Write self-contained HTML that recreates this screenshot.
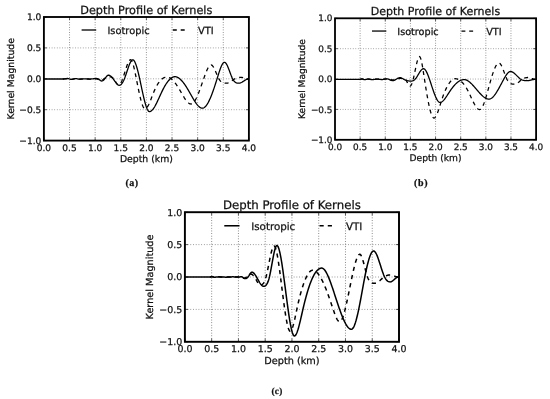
<!DOCTYPE html>
<html><head><meta charset="utf-8"><title>Depth Profile of Kernels</title>
<style>html,body{margin:0;padding:0;background:#fff}svg{display:block}text{text-rendering:geometricPrecision;stroke:#111;stroke-width:0.25px}</style></head>
<body>
<svg width="550" height="399" viewBox="0 0 550 399">
<rect width="550" height="399" fill="#fff"/>
<g stroke="#333" stroke-width="0.64" stroke-dasharray="0.80 1.70" fill="none"><line x1="69.53" y1="17.00" x2="69.53" y2="140.60"/><line x1="95.15" y1="17.00" x2="95.15" y2="140.60"/><line x1="120.78" y1="17.00" x2="120.78" y2="140.60"/><line x1="146.40" y1="17.00" x2="146.40" y2="140.60"/><line x1="172.03" y1="17.00" x2="172.03" y2="140.60"/><line x1="197.65" y1="17.00" x2="197.65" y2="140.60"/><line x1="223.28" y1="17.00" x2="223.28" y2="140.60"/></g>
<g stroke="#484848" stroke-width="0.60" stroke-dasharray="0.80 1.80" fill="none"><line x1="43.90" y1="47.90" x2="248.90" y2="47.90"/><line x1="43.90" y1="78.80" x2="248.90" y2="78.80"/><line x1="43.90" y1="109.70" x2="248.90" y2="109.70"/></g>
<path d="M63.00 79.00 L63.50 78.99 L64.00 78.96 L64.50 78.93 L65.00 78.88 L65.50 78.83 L66.00 78.78 L66.50 78.74 L67.00 78.71 L67.50 78.70 L67.60 78.70 L68.10 78.73 L68.60 78.81 L69.10 78.92 L69.60 79.04 L70.10 79.15 L70.60 79.24 L71.10 79.29 L71.30 79.30 L71.80 79.28 L72.30 79.22 L72.80 79.13 L73.30 79.03 L73.80 78.93 L74.30 78.83 L74.80 78.75 L75.30 78.71 L75.60 78.70 L76.10 78.72 L76.60 78.76 L77.10 78.82 L77.60 78.89 L78.10 78.97 L78.60 79.04 L79.10 79.10 L79.60 79.14 L80.00 79.15 L80.50 79.14 L81.00 79.13 L81.50 79.10 L82.00 79.07 L82.50 79.04 L83.00 79.00 L83.50 78.96 L84.00 78.93 L84.50 78.90 L85.00 78.87 L85.50 78.86 L86.00 78.85 L86.50 78.86 L87.00 78.88 L87.50 78.90 L88.00 78.94 L88.50 78.97 L89.00 79.01 L89.50 79.05 L90.00 79.07 L90.50 79.09 L91.00 79.10 L91.50 79.09 L92.00 79.05 L92.50 79.01 L93.00 78.95 L93.50 78.89 L94.00 78.85 L94.50 78.81 L95.00 78.80 L95.50 78.80 L96.00 78.82 L96.50 78.87 L97.00 78.95 L97.50 79.10 L98.00 79.31 L98.50 79.56 L99.00 79.82 L99.50 80.06 L100.00 80.26 L100.50 80.38 L100.80 80.40 L101.30 80.35 L101.80 80.20 L102.30 79.97 L102.80 79.68 L103.30 79.35 L103.80 79.00 L104.30 78.64 L104.80 78.28 L105.30 77.94 L105.80 77.62 L106.30 77.34 L106.80 77.11 L107.30 76.93 L107.80 76.83 L108.20 76.80 L108.70 76.80 L109.20 76.80 L109.70 76.81 L110.20 76.85 L110.70 76.93 L111.20 77.06 L111.70 77.25 L112.20 77.52 L112.70 77.87 L113.20 78.32 L113.70 78.87 L114.20 79.55 L114.70 80.32 L115.20 81.13 L115.70 81.96 L116.20 82.77 L116.70 83.51 L117.20 84.14 L117.70 84.62 L118.20 84.92 L118.60 85.00 L119.10 84.89 L119.60 84.57 L120.10 84.05 L120.60 83.35 L121.10 82.48 L121.60 81.46 L122.10 80.29 L122.60 79.00 L123.10 77.60 L123.60 76.11 L124.10 74.55 L124.60 72.96 L125.10 71.36 L125.60 69.76 L126.10 68.20 L126.60 66.70 L127.10 65.28 L127.60 63.98 L128.10 62.80 L128.60 61.79 L129.10 60.95 L129.60 60.33 L130.10 59.94 L130.60 59.80 L131.10 60.00 L131.60 60.59 L132.10 61.53 L132.60 62.79 L133.10 64.32 L133.60 66.11 L134.10 68.10 L134.60 70.27 L135.10 72.58 L135.60 75.00 L136.10 77.49 L136.60 80.01 L137.10 82.55 L137.60 85.07 L138.10 87.57 L138.60 90.02 L139.10 92.40 L139.60 94.69 L140.10 96.88 L140.60 98.94 L141.10 100.86 L141.60 102.62 L142.10 104.20 L142.60 105.58 L143.10 106.73 L143.60 107.65 L144.10 108.32 L144.60 108.70 L145.00 108.80 L145.50 108.71 L146.00 108.44 L146.50 108.01 L147.00 107.43 L147.50 106.72 L148.00 105.89 L148.50 104.95 L149.00 103.92 L149.50 102.81 L150.00 101.64 L150.50 100.41 L151.00 99.14 L151.50 97.85 L152.00 96.55 L152.50 95.26 L153.00 93.98 L153.50 92.73 L154.00 91.52 L154.50 90.37 L155.00 89.27 L155.50 88.22 L156.00 87.22 L156.50 86.27 L157.00 85.38 L157.50 84.53 L158.00 83.72 L158.50 82.97 L159.00 82.27 L159.50 81.61 L160.00 81.00 L160.50 80.43 L161.00 79.91 L161.50 79.43 L162.00 79.00 L162.50 78.61 L163.00 78.27 L163.50 77.97 L164.00 77.71 L164.50 77.49 L165.00 77.31 L165.50 77.17 L166.00 77.08 L166.50 77.02 L167.00 77.00 L167.50 77.03 L168.00 77.10 L168.50 77.23 L169.00 77.41 L169.50 77.63 L170.00 77.90 L170.50 78.21 L171.00 78.57 L171.50 78.96 L172.00 79.39 L172.50 79.87 L173.00 80.37 L173.50 80.92 L174.00 81.49 L174.50 82.10 L175.00 82.73 L175.50 83.40 L176.00 84.09 L176.50 84.81 L177.00 85.55 L177.50 86.31 L178.00 87.09 L178.50 87.89 L179.00 88.71 L179.50 89.55 L180.00 90.40 L180.50 91.26 L181.00 92.13 L181.50 93.01 L182.00 93.88 L182.50 94.75 L183.00 95.60 L183.50 96.44 L184.00 97.26 L184.50 98.06 L185.00 98.82 L185.50 99.56 L186.00 100.25 L186.50 100.90 L187.00 101.50 L187.50 102.05 L188.00 102.54 L188.50 102.96 L189.00 103.32 L189.50 103.61 L190.00 103.82 L190.50 103.96 L191.00 104.00 L191.50 103.94 L192.00 103.76 L192.50 103.47 L193.00 103.08 L193.50 102.58 L194.00 101.99 L194.50 101.31 L195.00 100.54 L195.50 99.69 L196.00 98.76 L196.50 97.76 L197.00 96.70 L197.50 95.58 L198.00 94.40 L198.50 93.17 L199.00 91.90 L199.50 90.59 L200.00 89.24 L200.50 87.87 L201.00 86.47 L201.50 85.05 L202.00 83.62 L202.50 82.18 L203.00 80.73 L203.50 79.29 L204.00 77.85 L204.50 76.43 L205.00 75.04 L205.50 73.69 L206.00 72.40 L206.50 71.17 L207.00 70.01 L207.50 68.94 L208.00 67.97 L208.50 67.11 L209.00 66.38 L209.50 65.78 L210.00 65.32 L210.50 65.03 L211.00 64.90 L211.10 64.90 L211.60 65.01 L212.10 65.33 L212.60 65.83 L213.10 66.50 L213.60 67.30 L214.10 68.23 L214.60 69.25 L215.10 70.35 L215.60 71.50 L216.10 72.68 L216.60 73.87 L217.10 75.04 L217.60 76.18 L218.10 77.27 L218.60 78.27 L219.10 79.17 L219.60 79.96 L220.10 80.63 L220.60 81.21 L221.10 81.69 L221.60 82.09 L222.10 82.41 L222.60 82.66 L223.10 82.86 L223.60 83.00 L224.10 83.09 L224.60 83.15 L225.10 83.19 L225.60 83.20 L226.10 83.20 L226.60 83.20 L227.10 83.17 L227.60 83.08 L228.10 82.94 L228.60 82.75 L229.10 82.52 L229.60 82.26 L230.10 81.96 L230.60 81.64 L231.10 81.31 L231.60 80.96 L232.10 80.61 L232.60 80.25 L233.10 79.90 L233.60 79.56 L234.10 79.24 L234.60 78.94 L235.10 78.67 L235.60 78.42 L236.10 78.20 L236.60 78.01 L237.10 77.84 L237.60 77.69 L238.10 77.57 L238.60 77.47 L239.10 77.40 L239.60 77.34 L240.10 77.31 L240.60 77.30 L241.10 77.32 L241.60 77.37 L242.10 77.46 L242.60 77.57 L243.10 77.70 L243.60 77.85 L244.10 78.01 L244.60 78.17 L245.10 78.33 L245.60 78.48 L246.10 78.62 L246.60 78.75 L247.10 78.86 L247.60 78.94 L248.10 78.99 L248.50 79.00" fill="none" stroke="#000" stroke-width="1.30" stroke-dasharray="4.00 4.00"/>
<path d="M44.00 79.00 L44.50 79.00 L45.00 79.00 L45.50 79.00 L46.00 79.00 L46.50 79.00 L47.00 79.00 L47.50 79.00 L48.00 79.00 L48.50 79.00 L49.00 79.00 L49.50 79.00 L50.00 79.00 L50.50 79.00 L51.00 79.00 L51.50 79.00 L52.00 79.00 L52.50 79.00 L53.00 79.00 L53.50 79.00 L54.00 79.00 L54.50 79.00 L55.00 79.00 L55.50 79.00 L56.00 79.00 L56.50 79.00 L57.00 79.00 L57.50 79.00 L58.00 79.00 L58.50 79.00 L59.00 79.00 L59.50 79.00 L60.00 79.00 L60.50 79.00 L61.00 79.00 L61.50 79.00 L62.00 79.00 L62.50 79.00 L63.00 79.00 L63.50 78.98 L64.00 78.94 L64.50 78.88 L65.00 78.80 L65.50 78.72 L66.00 78.64 L66.50 78.57 L67.00 78.52 L67.50 78.50 L67.60 78.50 L68.10 78.54 L68.60 78.66 L69.10 78.82 L69.60 79.00 L70.10 79.18 L70.60 79.32 L71.10 79.39 L71.30 79.40 L71.80 79.37 L72.30 79.29 L72.80 79.18 L73.30 79.04 L73.80 78.90 L74.30 78.78 L74.80 78.67 L75.30 78.61 L75.60 78.60 L76.10 78.63 L76.60 78.70 L77.10 78.81 L77.60 78.92 L78.10 79.01 L78.60 79.08 L79.00 79.10 L79.50 79.09 L80.00 79.07 L80.50 79.04 L81.00 78.99 L81.50 78.95 L82.00 78.91 L82.50 78.86 L83.00 78.83 L83.50 78.81 L84.00 78.80 L84.50 78.81 L85.00 78.83 L85.50 78.86 L86.00 78.91 L86.50 78.95 L87.00 78.99 L87.50 79.04 L88.00 79.07 L88.50 79.09 L89.00 79.10 L89.50 79.09 L90.00 79.08 L90.50 79.05 L91.00 79.01 L91.50 78.97 L92.00 78.91 L92.50 78.86 L93.00 78.80 L93.50 78.74 L94.00 78.68 L94.50 78.62 L95.00 78.57 L95.50 78.53 L96.00 78.51 L96.50 78.50 L97.00 78.53 L97.50 78.63 L98.00 78.80 L98.50 79.04 L99.00 79.35 L99.50 79.73 L100.00 80.14 L100.50 80.52 L101.00 80.82 L101.50 80.98 L101.70 81.00 L102.20 80.93 L102.70 80.73 L103.20 80.41 L103.70 79.99 L104.20 79.47 L104.70 78.88 L105.20 78.22 L105.70 77.54 L106.20 76.88 L106.70 76.28 L107.20 75.78 L107.70 75.41 L108.20 75.22 L108.40 75.20 L108.90 75.25 L109.40 75.39 L109.90 75.62 L110.40 75.93 L110.90 76.32 L111.40 76.77 L111.90 77.28 L112.40 77.85 L112.90 78.47 L113.40 79.14 L113.90 79.83 L114.40 80.55 L114.90 81.27 L115.40 81.97 L115.90 82.65 L116.40 83.28 L116.90 83.86 L117.40 84.36 L117.90 84.77 L118.40 85.07 L118.90 85.25 L119.30 85.30 L119.80 85.23 L120.30 85.04 L120.80 84.71 L121.30 84.26 L121.80 83.68 L122.30 82.98 L122.80 82.16 L123.30 81.22 L123.80 80.17 L124.30 79.00 L124.80 77.73 L125.30 76.36 L125.80 74.93 L126.30 73.45 L126.80 71.95 L127.30 70.44 L127.80 68.95 L128.30 67.51 L128.80 66.12 L129.30 64.81 L129.80 63.61 L130.30 62.54 L130.80 61.61 L131.30 60.85 L131.80 60.28 L132.30 59.92 L132.80 59.80 L132.80 59.80 L133.30 59.94 L133.80 60.33 L134.30 60.97 L134.80 61.84 L135.30 62.92 L135.80 64.19 L136.30 65.64 L136.80 67.26 L137.30 69.02 L137.80 70.91 L138.30 72.92 L138.80 75.02 L139.30 77.20 L139.80 79.45 L140.30 81.75 L140.80 84.08 L141.30 86.43 L141.80 88.77 L142.30 91.09 L142.80 93.37 L143.30 95.59 L143.80 97.75 L144.30 99.81 L144.80 101.76 L145.30 103.59 L145.80 105.27 L146.30 106.80 L146.80 108.14 L147.30 109.29 L147.80 110.23 L148.30 110.94 L148.80 111.40 L149.30 111.59 L149.40 111.60 L149.90 111.55 L150.40 111.39 L150.90 111.14 L151.40 110.79 L151.90 110.36 L152.40 109.85 L152.90 109.26 L153.40 108.60 L153.90 107.87 L154.40 107.08 L154.90 106.24 L155.40 105.35 L155.90 104.41 L156.40 103.44 L156.90 102.43 L157.40 101.39 L157.90 100.33 L158.40 99.25 L158.90 98.16 L159.40 97.06 L159.90 95.96 L160.40 94.86 L160.90 93.77 L161.40 92.69 L161.90 91.64 L162.40 90.60 L162.90 89.60 L163.40 88.63 L163.90 87.69 L164.40 86.78 L164.90 85.90 L165.40 85.06 L165.90 84.26 L166.40 83.49 L166.90 82.76 L167.40 82.06 L167.90 81.41 L168.40 80.79 L168.90 80.21 L169.40 79.68 L169.90 79.18 L170.40 78.73 L170.90 78.32 L171.40 77.96 L171.90 77.64 L172.40 77.36 L172.90 77.14 L173.40 76.95 L173.90 76.82 L174.40 76.74 L174.90 76.70 L175.00 76.70 L175.50 76.72 L176.00 76.80 L176.50 76.92 L177.00 77.09 L177.50 77.30 L178.00 77.56 L178.50 77.85 L179.00 78.19 L179.50 78.57 L180.00 78.99 L180.50 79.44 L181.00 79.93 L181.50 80.45 L182.00 81.00 L182.50 81.59 L183.00 82.20 L183.50 82.84 L184.00 83.51 L184.50 84.21 L185.00 84.93 L185.50 85.67 L186.00 86.43 L186.50 87.21 L187.00 88.01 L187.50 88.83 L188.00 89.66 L188.50 90.51 L189.00 91.37 L189.50 92.25 L190.00 93.12 L190.50 94.01 L191.00 94.90 L191.50 95.78 L192.00 96.66 L192.50 97.53 L193.00 98.39 L193.50 99.23 L194.00 100.06 L194.50 100.86 L195.00 101.65 L195.50 102.40 L196.00 103.12 L196.50 103.81 L197.00 104.46 L197.50 105.07 L198.00 105.63 L198.50 106.15 L199.00 106.62 L199.50 107.03 L200.00 107.39 L200.50 107.68 L201.00 107.91 L201.50 108.08 L202.00 108.18 L202.40 108.20 L202.90 108.15 L203.40 108.01 L203.90 107.78 L204.40 107.47 L204.90 107.07 L205.40 106.59 L205.90 106.03 L206.40 105.39 L206.90 104.68 L207.40 103.90 L207.90 103.05 L208.40 102.14 L208.90 101.17 L209.40 100.13 L209.90 99.04 L210.40 97.90 L210.90 96.70 L211.40 95.45 L211.90 94.16 L212.40 92.83 L212.90 91.45 L213.40 90.04 L213.90 88.59 L214.40 87.11 L214.90 85.60 L215.40 84.07 L215.90 82.51 L216.40 80.92 L216.90 79.32 L217.40 77.71 L217.90 76.09 L218.40 74.49 L218.90 72.91 L219.40 71.39 L219.90 69.92 L220.40 68.54 L220.90 67.25 L221.40 66.08 L221.90 65.03 L222.40 64.13 L222.90 63.39 L223.40 62.83 L223.90 62.46 L224.40 62.30 L224.50 62.30 L225.00 62.42 L225.50 62.78 L226.00 63.35 L226.50 64.10 L227.00 65.01 L227.50 66.05 L228.00 67.21 L228.50 68.45 L229.00 69.76 L229.50 71.10 L230.00 72.46 L230.50 73.81 L231.00 75.12 L231.50 76.38 L232.00 77.55 L232.50 78.61 L233.00 79.54 L233.50 80.34 L234.00 81.01 L234.50 81.57 L235.00 82.03 L235.50 82.39 L236.00 82.67 L236.50 82.88 L237.00 83.02 L237.50 83.12 L238.00 83.17 L238.50 83.20 L238.90 83.20 L239.40 83.17 L239.90 83.07 L240.40 82.92 L240.90 82.73 L241.40 82.49 L241.90 82.23 L242.40 81.93 L242.90 81.62 L243.40 81.30 L243.90 80.97 L244.40 80.64 L244.90 80.33 L245.40 80.03 L245.90 79.76 L246.40 79.52 L246.90 79.31 L247.40 79.15 L247.90 79.05 L248.40 79.00 L248.50 79.00" fill="none" stroke="#000" stroke-width="1.30" stroke-linejoin="round"/>
<rect x="43.90" y="17.00" width="205.00" height="123.60" fill="none" stroke="#000" stroke-width="1.85"/>
<g stroke="#000" stroke-width="0.60"><line x1="43.90" y1="140.60" x2="43.90" y2="137.60"/><line x1="43.90" y1="17.00" x2="43.90" y2="20.00"/><line x1="69.53" y1="140.60" x2="69.53" y2="137.60"/><line x1="69.53" y1="17.00" x2="69.53" y2="20.00"/><line x1="95.15" y1="140.60" x2="95.15" y2="137.60"/><line x1="95.15" y1="17.00" x2="95.15" y2="20.00"/><line x1="120.78" y1="140.60" x2="120.78" y2="137.60"/><line x1="120.78" y1="17.00" x2="120.78" y2="20.00"/><line x1="146.40" y1="140.60" x2="146.40" y2="137.60"/><line x1="146.40" y1="17.00" x2="146.40" y2="20.00"/><line x1="172.03" y1="140.60" x2="172.03" y2="137.60"/><line x1="172.03" y1="17.00" x2="172.03" y2="20.00"/><line x1="197.65" y1="140.60" x2="197.65" y2="137.60"/><line x1="197.65" y1="17.00" x2="197.65" y2="20.00"/><line x1="223.28" y1="140.60" x2="223.28" y2="137.60"/><line x1="223.28" y1="17.00" x2="223.28" y2="20.00"/><line x1="248.90" y1="140.60" x2="248.90" y2="137.60"/><line x1="248.90" y1="17.00" x2="248.90" y2="20.00"/><line x1="43.90" y1="17.00" x2="46.90" y2="17.00"/><line x1="248.90" y1="17.00" x2="245.90" y2="17.00"/><line x1="43.90" y1="47.90" x2="46.90" y2="47.90"/><line x1="248.90" y1="47.90" x2="245.90" y2="47.90"/><line x1="43.90" y1="78.80" x2="46.90" y2="78.80"/><line x1="248.90" y1="78.80" x2="245.90" y2="78.80"/><line x1="43.90" y1="109.70" x2="46.90" y2="109.70"/><line x1="248.90" y1="109.70" x2="245.90" y2="109.70"/><line x1="43.90" y1="140.60" x2="46.90" y2="140.60"/><line x1="248.90" y1="140.60" x2="245.90" y2="140.60"/></g>
<g font-family='"DejaVu Sans", "Liberation Sans", sans-serif' font-size="9.05" fill="#111"><text x="43.90" y="150.60" text-anchor="middle">0.0</text><text x="69.53" y="150.60" text-anchor="middle">0.5</text><text x="95.15" y="150.60" text-anchor="middle">1.0</text><text x="120.78" y="150.60" text-anchor="middle">1.5</text><text x="146.40" y="150.60" text-anchor="middle">2.0</text><text x="172.03" y="150.60" text-anchor="middle">2.5</text><text x="197.65" y="150.60" text-anchor="middle">3.0</text><text x="223.28" y="150.60" text-anchor="middle">3.5</text><text x="248.90" y="150.60" text-anchor="middle">4.0</text><text x="41.30" y="20.20" text-anchor="end">1.0</text><text x="41.30" y="51.10" text-anchor="end">0.5</text><text x="41.30" y="82.00" text-anchor="end">0.0</text><text x="41.30" y="112.90" text-anchor="end">−0.5</text><text x="41.30" y="143.80" text-anchor="end">−1.0</text></g>
<text x="146.40" y="162.20" text-anchor="middle" font-family='"DejaVu Sans", "Liberation Sans", sans-serif' font-size="9.30" fill="#111">Depth (km)</text>
<text transform="translate(13.50 78.80) rotate(-90)" text-anchor="middle" font-family='"DejaVu Sans", "Liberation Sans", sans-serif' font-size="9.30" fill="#111">Kernel Magnitude</text>
<text x="146.30" y="13.70" text-anchor="middle" font-family='"DejaVu Sans", "Liberation Sans", sans-serif' font-size="11.25" fill="#111">Depth Profile of Kernels</text>
<line x1="81.60" y1="30.00" x2="96.20" y2="30.00" stroke="#000" stroke-width="1.30"/>
<text x="107.40" y="33.60" font-family='"DejaVu Sans", "Liberation Sans", sans-serif' font-size="9.85" fill="#111">Isotropic</text>
<line x1="172.80" y1="30.00" x2="187.40" y2="30.00" stroke="#000" stroke-width="1.30" stroke-dasharray="4.00 3.90"/>
<text x="198.10" y="33.60" font-family='"DejaVu Sans", "Liberation Sans", sans-serif' font-size="9.85" fill="#111">VTI</text>
<text x="132.00" y="185.80" text-anchor="middle" font-family='"Liberation Serif", "DejaVu Serif", serif' font-weight="bold" font-size="10.00" letter-spacing="0.4" stroke-width="0.08" fill="#111">(a)</text>
<g stroke="#333" stroke-width="0.63" stroke-dasharray="0.78 1.67" fill="none"><line x1="360.14" y1="18.30" x2="360.14" y2="139.80"/><line x1="385.27" y1="18.30" x2="385.27" y2="139.80"/><line x1="410.41" y1="18.30" x2="410.41" y2="139.80"/><line x1="435.55" y1="18.30" x2="435.55" y2="139.80"/><line x1="460.69" y1="18.30" x2="460.69" y2="139.80"/><line x1="485.83" y1="18.30" x2="485.83" y2="139.80"/><line x1="510.96" y1="18.30" x2="510.96" y2="139.80"/></g>
<g stroke="#484848" stroke-width="0.59" stroke-dasharray="0.78 1.77" fill="none"><line x1="335.00" y1="48.68" x2="536.10" y2="48.68"/><line x1="335.00" y1="79.05" x2="536.10" y2="79.05"/><line x1="335.00" y1="109.43" x2="536.10" y2="109.43"/></g>
<path d="M359.50 79.35 L360.00 79.31 L360.50 79.23 L361.00 79.12 L361.50 79.04 L362.00 79.00 L362.50 79.06 L363.00 79.21 L363.50 79.39 L364.00 79.54 L364.50 79.60 L365.00 79.57 L365.50 79.50 L366.00 79.40 L366.50 79.30 L367.00 79.20 L367.50 79.13 L368.00 79.10 L368.50 79.12 L369.00 79.17 L369.50 79.24 L370.00 79.33 L370.50 79.41 L371.00 79.48 L371.50 79.53 L372.00 79.55 L372.50 79.54 L373.00 79.51 L373.50 79.46 L374.00 79.41 L374.50 79.35 L375.00 79.29 L375.50 79.24 L376.00 79.19 L376.50 79.16 L377.00 79.15 L377.50 79.16 L378.00 79.19 L378.50 79.23 L379.00 79.27 L379.50 79.32 L380.00 79.38 L380.50 79.42 L381.00 79.46 L381.50 79.49 L382.00 79.50 L382.50 79.48 L383.00 79.42 L383.50 79.34 L384.00 79.25 L384.50 79.16 L385.00 79.08 L385.50 79.02 L386.00 79.00 L386.50 79.01 L387.00 79.05 L387.50 79.10 L388.00 79.17 L388.50 79.24 L389.00 79.33 L389.50 79.41 L390.00 79.50 L390.50 79.58 L391.00 79.66 L391.50 79.73 L392.00 79.78 L392.50 79.83 L393.00 79.87 L393.50 79.89 L394.00 79.90 L394.50 79.87 L395.00 79.78 L395.50 79.65 L396.00 79.49 L396.50 79.31 L397.00 79.13 L397.50 78.95 L398.00 78.80 L398.50 78.68 L399.00 78.58 L399.50 78.51 L400.00 78.46 L400.50 78.43 L401.00 78.41 L401.50 78.40 L402.00 78.40 L402.50 78.38 L403.00 78.34 L403.50 78.33 L404.00 78.38 L404.50 78.54 L405.00 78.85 L405.50 79.35 L406.00 80.06 L406.50 80.94 L407.00 81.91 L407.50 82.91 L408.00 83.88 L408.50 84.75 L409.00 85.46 L409.50 85.93 L410.00 86.10 L410.50 85.92 L411.00 85.38 L411.50 84.51 L412.00 83.32 L412.50 81.85 L413.00 80.12 L413.50 78.13 L414.00 75.95 L414.50 73.63 L415.00 71.24 L415.50 68.83 L416.00 66.47 L416.50 64.23 L417.00 62.16 L417.50 60.32 L418.00 58.79 L418.50 57.61 L419.00 56.86 L419.50 56.60 L420.00 56.94 L420.50 57.91 L421.00 59.44 L421.50 61.45 L422.00 63.87 L422.50 66.61 L423.00 69.60 L423.50 72.78 L424.00 76.05 L424.50 79.35 L425.00 82.61 L425.50 85.81 L426.00 88.93 L426.50 91.96 L427.00 94.90 L427.50 97.71 L428.00 100.40 L428.50 102.95 L429.00 105.35 L429.50 107.58 L430.00 109.63 L430.50 111.48 L431.00 113.13 L431.50 114.57 L432.00 115.77 L432.50 116.73 L433.00 117.42 L433.50 117.85 L434.00 118.00 L434.50 117.88 L435.00 117.52 L435.50 116.95 L436.00 116.18 L436.50 115.25 L437.00 114.15 L437.50 112.92 L438.00 111.58 L438.50 110.15 L439.00 108.63 L439.50 107.07 L440.00 105.46 L440.50 103.85 L441.00 102.23 L441.50 100.64 L442.00 99.10 L442.50 97.62 L443.00 96.19 L443.50 94.83 L444.00 93.53 L444.50 92.29 L445.00 91.10 L445.50 89.97 L446.00 88.89 L446.50 87.87 L447.00 86.90 L447.50 85.97 L448.00 85.10 L448.50 84.27 L449.00 83.50 L449.50 82.77 L450.00 82.10 L450.50 81.48 L451.00 80.91 L451.50 80.41 L452.00 79.97 L452.50 79.59 L453.00 79.27 L453.50 79.03 L454.00 78.85 L454.50 78.74 L455.00 78.70 L455.50 78.72 L456.00 78.77 L456.50 78.86 L457.00 78.98 L457.50 79.14 L458.00 79.33 L458.50 79.56 L459.00 79.82 L459.50 80.12 L460.00 80.46 L460.50 80.83 L461.00 81.24 L461.50 81.68 L462.00 82.17 L462.50 82.69 L463.00 83.24 L463.50 83.84 L464.00 84.47 L464.50 85.14 L465.00 85.85 L465.50 86.60 L466.00 87.38 L466.50 88.20 L467.00 89.07 L467.50 89.97 L468.00 90.91 L468.50 91.89 L469.00 92.90 L469.50 93.94 L470.00 95.00 L470.50 96.07 L471.00 97.15 L471.50 98.22 L472.00 99.29 L472.50 100.35 L473.00 101.38 L473.50 102.38 L474.00 103.35 L474.50 104.27 L475.00 105.14 L475.50 105.96 L476.00 106.71 L476.50 107.39 L477.00 107.99 L477.50 108.51 L478.00 108.94 L478.50 109.26 L479.00 109.48 L479.50 109.59 L479.70 109.60 L480.20 109.50 L480.70 109.20 L481.20 108.72 L481.70 108.06 L482.20 107.25 L482.70 106.29 L483.20 105.19 L483.70 103.97 L484.20 102.64 L484.70 101.20 L485.20 99.68 L485.70 98.09 L486.20 96.43 L486.70 94.72 L487.20 92.97 L487.70 91.18 L488.20 89.38 L488.70 87.56 L489.20 85.74 L489.70 83.94 L490.20 82.15 L490.70 80.39 L491.20 78.67 L491.70 77.00 L492.20 75.38 L492.70 73.83 L493.20 72.35 L493.70 70.95 L494.20 69.64 L494.70 68.42 L495.20 67.31 L495.70 66.31 L496.20 65.42 L496.70 64.66 L497.20 64.03 L497.70 63.55 L498.20 63.21 L498.70 63.03 L499.00 63.00 L499.50 63.13 L500.00 63.49 L500.50 64.06 L501.00 64.81 L501.50 65.73 L502.00 66.78 L502.50 67.95 L503.00 69.20 L503.50 70.51 L504.00 71.86 L504.50 73.22 L505.00 74.57 L505.50 75.88 L506.00 77.13 L506.50 78.30 L507.00 79.35 L507.50 80.27 L508.00 81.07 L508.50 81.75 L509.00 82.32 L509.50 82.79 L510.00 83.17 L510.50 83.47 L511.00 83.70 L511.50 83.87 L512.00 83.99 L512.50 84.06 L513.00 84.10 L513.50 84.11 L514.00 84.11 L514.50 84.10 L515.00 84.10 L515.50 84.05 L516.00 83.92 L516.50 83.72 L517.00 83.45 L517.50 83.13 L518.00 82.76 L518.50 82.35 L519.00 81.92 L519.50 81.48 L520.00 81.03 L520.50 80.58 L521.00 80.14 L521.50 79.73 L522.00 79.35 L522.50 79.01 L523.00 78.71 L523.50 78.45 L524.00 78.23 L524.50 78.04 L525.00 77.89 L525.50 77.76 L526.00 77.66 L526.50 77.59 L527.00 77.54 L527.50 77.51 L528.00 77.50 L528.50 77.52 L529.00 77.59 L529.50 77.69 L530.00 77.82 L530.50 77.98 L531.00 78.15 L531.50 78.33 L532.00 78.52 L532.50 78.70 L533.00 78.87 L533.50 79.03 L534.00 79.16 L534.50 79.26 L535.00 79.33 L535.50 79.35" fill="none" stroke="#000" stroke-width="1.28" stroke-dasharray="3.92 3.92"/>
<path d="M335.00 79.35 L335.50 79.35 L336.00 79.35 L336.50 79.35 L337.00 79.35 L337.50 79.35 L338.00 79.35 L338.50 79.35 L339.00 79.35 L339.50 79.35 L340.00 79.35 L340.50 79.35 L341.00 79.35 L341.50 79.35 L342.00 79.35 L342.50 79.35 L343.00 79.35 L343.50 79.35 L344.00 79.35 L344.50 79.35 L345.00 79.35 L345.50 79.35 L346.00 79.35 L346.50 79.35 L347.00 79.35 L347.50 79.35 L348.00 79.35 L348.50 79.35 L349.00 79.35 L349.50 79.35 L350.00 79.35 L350.50 79.35 L351.00 79.35 L351.50 79.35 L352.00 79.35 L352.50 79.35 L353.00 79.35 L353.50 79.35 L354.00 79.35 L354.50 79.35 L355.00 79.35 L355.50 79.35 L356.00 79.35 L356.50 79.35 L357.00 79.35 L357.50 79.35 L358.00 79.35 L358.50 79.35 L359.00 79.35 L359.50 79.35 L360.00 79.30 L360.50 79.19 L361.00 79.06 L361.50 78.95 L362.00 78.90 L362.50 78.98 L363.00 79.18 L363.50 79.42 L364.00 79.62 L364.50 79.70 L365.00 79.66 L365.50 79.56 L366.00 79.42 L366.50 79.28 L367.00 79.14 L367.50 79.04 L368.00 79.00 L368.50 79.03 L369.00 79.09 L369.50 79.19 L370.00 79.30 L370.50 79.41 L371.00 79.51 L371.50 79.57 L372.00 79.60 L372.50 79.59 L373.00 79.55 L373.50 79.49 L374.00 79.42 L374.50 79.35 L375.00 79.28 L375.50 79.21 L376.00 79.15 L376.50 79.11 L377.00 79.10 L377.50 79.11 L378.00 79.15 L378.50 79.20 L379.00 79.26 L379.50 79.33 L380.00 79.39 L380.50 79.45 L381.00 79.50 L381.50 79.54 L382.00 79.55 L382.50 79.52 L383.00 79.43 L383.50 79.31 L384.00 79.17 L384.50 79.04 L385.00 78.92 L385.50 78.83 L386.00 78.80 L386.50 78.81 L387.00 78.85 L387.50 78.92 L388.00 79.03 L388.50 79.17 L389.00 79.35 L389.50 79.57 L390.00 79.82 L390.50 80.06 L391.00 80.30 L391.50 80.49 L392.00 80.63 L392.50 80.70 L392.60 80.70 L393.10 80.66 L393.60 80.54 L394.10 80.37 L394.60 80.14 L395.10 79.88 L395.60 79.59 L396.10 79.29 L396.60 78.99 L397.10 78.69 L397.60 78.42 L398.10 78.18 L398.60 77.97 L399.10 77.82 L399.60 77.72 L400.00 77.70 L400.50 77.74 L401.00 77.86 L401.50 78.03 L402.00 78.26 L402.50 78.52 L403.00 78.79 L403.50 79.07 L404.00 79.35 L404.50 79.61 L405.00 79.84 L405.50 80.06 L406.00 80.25 L406.50 80.42 L407.00 80.58 L407.50 80.71 L408.00 80.82 L408.50 80.92 L409.00 80.99 L409.50 81.05 L410.00 81.08 L410.50 81.10 L410.70 81.10 L411.20 81.09 L411.70 81.05 L412.20 80.96 L412.70 80.83 L413.20 80.64 L413.70 80.39 L414.20 80.06 L414.70 79.64 L415.20 79.13 L415.70 78.53 L416.20 77.86 L416.70 77.11 L417.20 76.33 L417.70 75.51 L418.20 74.67 L418.70 73.83 L419.20 73.00 L419.70 72.21 L420.20 71.46 L420.70 70.76 L421.20 70.15 L421.70 69.62 L422.20 69.20 L422.70 68.89 L423.20 68.73 L423.50 68.70 L424.00 68.80 L424.50 69.09 L425.00 69.55 L425.50 70.18 L426.00 70.95 L426.50 71.86 L427.00 72.88 L427.50 74.02 L428.00 75.25 L428.50 76.55 L429.00 77.93 L429.50 79.35 L430.00 80.81 L430.50 82.30 L431.00 83.81 L431.50 85.33 L432.00 86.84 L432.50 88.35 L433.00 89.82 L433.50 91.27 L434.00 92.67 L434.50 94.02 L435.00 95.30 L435.50 96.51 L436.00 97.64 L436.50 98.67 L437.00 99.60 L437.50 100.41 L438.00 101.10 L438.50 101.65 L439.00 102.06 L439.50 102.31 L440.00 102.40 L440.50 102.35 L441.00 102.22 L441.50 102.00 L442.00 101.70 L442.50 101.34 L443.00 100.90 L443.50 100.41 L444.00 99.86 L444.50 99.26 L445.00 98.62 L445.50 97.95 L446.00 97.24 L446.50 96.50 L447.00 95.74 L447.50 94.97 L448.00 94.19 L448.50 93.41 L449.00 92.63 L449.50 91.86 L450.00 91.10 L450.50 90.36 L451.00 89.64 L451.50 88.94 L452.00 88.26 L452.50 87.61 L453.00 86.97 L453.50 86.36 L454.00 85.77 L454.50 85.21 L455.00 84.66 L455.50 84.15 L456.00 83.66 L456.50 83.19 L457.00 82.75 L457.50 82.34 L458.00 81.95 L458.50 81.59 L459.00 81.26 L459.50 80.96 L460.00 80.68 L460.50 80.44 L461.00 80.23 L461.50 80.04 L462.00 79.89 L462.50 79.77 L463.00 79.68 L463.50 79.62 L464.00 79.60 L464.10 79.60 L464.60 79.62 L465.10 79.69 L465.60 79.81 L466.10 79.96 L466.60 80.16 L467.10 80.40 L467.60 80.67 L468.10 80.97 L468.60 81.31 L469.10 81.68 L469.60 82.08 L470.10 82.50 L470.60 82.95 L471.10 83.42 L471.60 83.91 L472.10 84.42 L472.60 84.94 L473.10 85.48 L473.60 86.04 L474.10 86.60 L474.60 87.17 L475.10 87.75 L475.60 88.34 L476.10 88.93 L476.60 89.51 L477.10 90.10 L477.60 90.68 L478.10 91.26 L478.60 91.83 L479.10 92.40 L479.60 92.95 L480.10 93.49 L480.60 94.02 L481.10 94.53 L481.60 95.03 L482.10 95.50 L482.60 95.95 L483.10 96.38 L483.60 96.79 L484.10 97.17 L484.60 97.52 L485.10 97.84 L485.60 98.13 L486.10 98.38 L486.60 98.60 L487.10 98.78 L487.60 98.93 L488.10 99.03 L488.60 99.09 L489.00 99.10 L489.50 99.06 L490.00 98.95 L490.50 98.78 L491.00 98.53 L491.50 98.22 L492.00 97.86 L492.50 97.43 L493.00 96.95 L493.50 96.42 L494.00 95.84 L494.50 95.22 L495.00 94.55 L495.50 93.85 L496.00 93.11 L496.50 92.34 L497.00 91.53 L497.50 90.70 L498.00 89.85 L498.50 88.97 L499.00 88.08 L499.50 87.17 L500.00 86.25 L500.50 85.32 L501.00 84.38 L501.50 83.44 L502.00 82.50 L502.50 81.57 L503.00 80.64 L503.50 79.72 L504.00 78.81 L504.50 77.92 L505.00 77.05 L505.50 76.22 L506.00 75.43 L506.50 74.69 L507.00 74.01 L507.50 73.39 L508.00 72.84 L508.50 72.38 L509.00 72.01 L509.50 71.73 L510.00 71.56 L510.50 71.50 L511.00 71.54 L511.50 71.65 L512.00 71.82 L512.50 72.05 L513.00 72.34 L513.50 72.68 L514.00 73.05 L514.50 73.46 L515.00 73.90 L515.50 74.37 L516.00 74.85 L516.50 75.35 L517.00 75.85 L517.50 76.35 L518.00 76.84 L518.50 77.32 L519.00 77.79 L519.50 78.23 L520.00 78.64 L520.50 79.02 L521.00 79.35 L521.50 79.64 L522.00 79.88 L522.50 80.09 L523.00 80.25 L523.50 80.39 L524.00 80.49 L524.50 80.57 L525.00 80.63 L525.50 80.66 L526.00 80.69 L526.50 80.70 L527.00 80.70 L527.50 80.69 L528.00 80.65 L528.50 80.59 L529.00 80.51 L529.50 80.42 L530.00 80.31 L530.50 80.20 L531.00 80.08 L531.50 79.97 L532.00 79.85 L532.50 79.74 L533.00 79.63 L533.50 79.54 L534.00 79.46 L534.50 79.40 L535.00 79.36 L535.50 79.35" fill="none" stroke="#000" stroke-width="1.28" stroke-linejoin="round"/>
<rect x="335.00" y="18.30" width="201.10" height="121.50" fill="none" stroke="#000" stroke-width="1.81"/>
<g stroke="#000" stroke-width="0.59"><line x1="335.00" y1="139.80" x2="335.00" y2="136.86"/><line x1="335.00" y1="18.30" x2="335.00" y2="21.24"/><line x1="360.14" y1="139.80" x2="360.14" y2="136.86"/><line x1="360.14" y1="18.30" x2="360.14" y2="21.24"/><line x1="385.27" y1="139.80" x2="385.27" y2="136.86"/><line x1="385.27" y1="18.30" x2="385.27" y2="21.24"/><line x1="410.41" y1="139.80" x2="410.41" y2="136.86"/><line x1="410.41" y1="18.30" x2="410.41" y2="21.24"/><line x1="435.55" y1="139.80" x2="435.55" y2="136.86"/><line x1="435.55" y1="18.30" x2="435.55" y2="21.24"/><line x1="460.69" y1="139.80" x2="460.69" y2="136.86"/><line x1="460.69" y1="18.30" x2="460.69" y2="21.24"/><line x1="485.83" y1="139.80" x2="485.83" y2="136.86"/><line x1="485.83" y1="18.30" x2="485.83" y2="21.24"/><line x1="510.96" y1="139.80" x2="510.96" y2="136.86"/><line x1="510.96" y1="18.30" x2="510.96" y2="21.24"/><line x1="536.10" y1="139.80" x2="536.10" y2="136.86"/><line x1="536.10" y1="18.30" x2="536.10" y2="21.24"/><line x1="335.00" y1="18.30" x2="337.94" y2="18.30"/><line x1="536.10" y1="18.30" x2="533.16" y2="18.30"/><line x1="335.00" y1="48.68" x2="337.94" y2="48.68"/><line x1="536.10" y1="48.68" x2="533.16" y2="48.68"/><line x1="335.00" y1="79.05" x2="337.94" y2="79.05"/><line x1="536.10" y1="79.05" x2="533.16" y2="79.05"/><line x1="335.00" y1="109.43" x2="337.94" y2="109.43"/><line x1="536.10" y1="109.43" x2="533.16" y2="109.43"/><line x1="335.00" y1="139.80" x2="337.94" y2="139.80"/><line x1="536.10" y1="139.80" x2="533.16" y2="139.80"/></g>
<g font-family='"DejaVu Sans", "Liberation Sans", sans-serif' font-size="8.88" fill="#111"><text x="335.00" y="149.61" text-anchor="middle">0.0</text><text x="360.14" y="149.61" text-anchor="middle">0.5</text><text x="385.27" y="149.61" text-anchor="middle">1.0</text><text x="410.41" y="149.61" text-anchor="middle">1.5</text><text x="435.55" y="149.61" text-anchor="middle">2.0</text><text x="460.69" y="149.61" text-anchor="middle">2.5</text><text x="485.83" y="149.61" text-anchor="middle">3.0</text><text x="510.96" y="149.61" text-anchor="middle">3.5</text><text x="536.10" y="149.61" text-anchor="middle">4.0</text><text x="332.45" y="21.44" text-anchor="end">1.0</text><text x="332.45" y="51.81" text-anchor="end">0.5</text><text x="332.45" y="82.19" text-anchor="end">0.0</text><text x="332.45" y="112.56" text-anchor="end">−0.5</text><text x="332.45" y="142.94" text-anchor="end">−1.0</text></g>
<text x="435.55" y="160.99" text-anchor="middle" font-family='"DejaVu Sans", "Liberation Sans", sans-serif' font-size="9.12" fill="#111">Depth (km)</text>
<text transform="translate(305.18 79.05) rotate(-90)" text-anchor="middle" font-family='"DejaVu Sans", "Liberation Sans", sans-serif' font-size="9.12" fill="#111">Kernel Magnitude</text>
<text x="435.45" y="15.06" text-anchor="middle" font-family='"DejaVu Sans", "Liberation Sans", sans-serif' font-size="11.04" fill="#111">Depth Profile of Kernels</text>
<line x1="371.98" y1="31.05" x2="386.31" y2="31.05" stroke="#000" stroke-width="1.28"/>
<text x="397.29" y="34.58" font-family='"DejaVu Sans", "Liberation Sans", sans-serif' font-size="9.66" fill="#111">Isotropic</text>
<line x1="461.45" y1="31.05" x2="475.77" y2="31.05" stroke="#000" stroke-width="1.28" stroke-dasharray="3.92 3.83"/>
<text x="486.27" y="34.58" font-family='"DejaVu Sans", "Liberation Sans", sans-serif' font-size="9.66" fill="#111">VTI</text>
<text x="421.20" y="185.70" text-anchor="middle" font-family='"Liberation Serif", "DejaVu Serif", serif' font-weight="bold" font-size="10.00" letter-spacing="0.7" stroke-width="0.08" fill="#111">(b)</text>
<g stroke="#333" stroke-width="0.67" stroke-dasharray="0.84 1.78" fill="none"><line x1="211.66" y1="212.20" x2="211.66" y2="341.80"/><line x1="238.43" y1="212.20" x2="238.43" y2="341.80"/><line x1="265.19" y1="212.20" x2="265.19" y2="341.80"/><line x1="291.95" y1="212.20" x2="291.95" y2="341.80"/><line x1="318.71" y1="212.20" x2="318.71" y2="341.80"/><line x1="345.48" y1="212.20" x2="345.48" y2="341.80"/><line x1="372.24" y1="212.20" x2="372.24" y2="341.80"/></g>
<g stroke="#484848" stroke-width="0.63" stroke-dasharray="0.84 1.88" fill="none"><line x1="184.90" y1="244.60" x2="399.00" y2="244.60"/><line x1="184.90" y1="277.00" x2="399.00" y2="277.00"/><line x1="184.90" y1="309.40" x2="399.00" y2="309.40"/></g>
<path d="M210.00 277.00 L210.50 276.95 L211.00 276.85 L211.50 276.75 L212.00 276.70 L212.50 276.75 L213.00 276.86 L213.50 276.99 L214.00 277.10 L214.50 277.15 L215.00 277.14 L215.50 277.12 L216.00 277.09 L216.50 277.05 L217.00 277.00 L217.50 276.96 L218.00 276.93 L218.50 276.91 L219.00 276.90 L219.50 276.90 L220.00 276.91 L220.50 276.92 L221.00 276.94 L221.50 276.96 L222.00 276.98 L222.50 277.00 L223.00 277.02 L223.50 277.04 L224.00 277.06 L224.50 277.08 L225.00 277.09 L225.50 277.10 L226.00 277.10 L226.50 277.10 L227.00 277.09 L227.50 277.08 L228.00 277.06 L228.50 277.04 L229.00 277.02 L229.50 277.00 L230.00 276.98 L230.50 276.96 L231.00 276.94 L231.50 276.92 L232.00 276.91 L232.50 276.90 L233.00 276.90 L233.50 276.91 L234.00 276.92 L234.50 276.94 L235.00 276.97 L235.50 277.00 L236.00 277.03 L236.50 277.06 L237.00 277.08 L237.50 277.09 L238.00 277.10 L238.50 277.08 L239.00 277.03 L239.50 276.97 L240.00 276.92 L240.50 276.90 L241.00 277.04 L241.50 277.36 L242.00 277.74 L242.50 278.06 L243.00 278.20 L243.50 278.18 L244.00 278.13 L244.50 278.02 L245.00 277.86 L245.50 277.65 L246.00 277.36 L246.50 277.00 L247.00 276.57 L247.50 276.08 L248.00 275.58 L248.50 275.10 L249.00 274.67 L249.50 274.32 L250.00 274.09 L250.50 274.00 L251.00 274.05 L251.50 274.19 L252.00 274.43 L252.50 274.76 L253.00 275.19 L253.50 275.70 L254.00 276.31 L254.50 277.00 L255.00 277.78 L255.50 278.62 L256.00 279.49 L256.50 280.39 L257.00 281.26 L257.50 282.11 L258.00 282.89 L258.50 283.58 L259.00 284.16 L259.50 284.61 L260.00 284.90 L260.50 285.00 L261.00 284.96 L261.50 284.84 L262.00 284.62 L262.50 284.27 L263.00 283.79 L263.50 283.15 L264.00 282.34 L264.50 281.33 L265.00 280.12 L265.50 278.68 L266.00 277.00 L266.50 275.07 L267.00 272.92 L267.50 270.60 L268.00 268.16 L268.50 265.64 L269.00 263.09 L269.50 260.55 L270.00 258.08 L270.50 255.71 L271.00 253.49 L271.50 251.48 L272.00 249.71 L272.50 248.23 L273.00 247.09 L273.50 246.34 L274.00 246.01 L274.10 246.00 L274.60 246.26 L275.10 247.02 L275.60 248.23 L276.10 249.87 L276.60 251.90 L277.10 254.28 L277.60 256.98 L278.10 259.96 L278.60 263.18 L279.10 266.61 L279.60 270.21 L280.10 273.94 L280.60 277.77 L281.10 281.67 L281.60 285.61 L282.10 289.55 L282.60 293.48 L283.10 297.36 L283.60 301.17 L284.10 304.87 L284.60 308.45 L285.10 311.86 L285.60 315.10 L286.10 318.12 L286.60 320.90 L287.10 323.41 L287.60 325.62 L288.10 327.52 L288.60 329.06 L289.10 330.22 L289.60 330.97 L290.10 331.29 L290.20 331.30 L290.70 331.11 L291.20 330.56 L291.70 329.68 L292.20 328.50 L292.70 327.06 L293.20 325.39 L293.70 323.52 L294.20 321.49 L294.70 319.32 L295.20 317.05 L295.70 314.72 L296.20 312.34 L296.70 309.97 L297.20 307.62 L297.70 305.34 L298.20 303.13 L298.70 300.99 L299.20 298.93 L299.70 296.93 L300.20 295.01 L300.70 293.17 L301.20 291.39 L301.70 289.68 L302.20 288.04 L302.70 286.47 L303.20 284.97 L303.70 283.53 L304.20 282.17 L304.70 280.86 L305.20 279.63 L305.70 278.46 L306.20 277.37 L306.70 276.35 L307.20 275.40 L307.70 274.52 L308.20 273.73 L308.70 273.01 L309.20 272.37 L309.70 271.82 L310.20 271.34 L310.70 270.96 L311.20 270.66 L311.70 270.45 L312.20 270.33 L312.60 270.30 L313.10 270.33 L313.60 270.42 L314.10 270.58 L314.60 270.79 L315.10 271.06 L315.60 271.38 L316.10 271.77 L316.60 272.20 L317.10 272.69 L317.60 273.23 L318.10 273.83 L318.60 274.47 L319.10 275.16 L319.60 275.90 L320.10 276.69 L320.60 277.52 L321.10 278.40 L321.60 279.31 L322.10 280.28 L322.60 281.28 L323.10 282.32 L323.60 283.40 L324.10 284.51 L324.60 285.67 L325.10 286.86 L325.60 288.08 L326.10 289.33 L326.60 290.62 L327.10 291.93 L327.60 293.28 L328.10 294.65 L328.60 296.04 L329.10 297.45 L329.60 298.87 L330.10 300.31 L330.60 301.76 L331.10 303.23 L331.60 304.69 L332.10 306.16 L332.60 307.64 L333.10 309.11 L333.60 310.57 L334.10 312.02 L334.60 313.43 L335.10 314.79 L335.60 316.08 L336.10 317.28 L336.60 318.37 L337.10 319.35 L337.60 320.19 L338.10 320.87 L338.60 321.37 L339.10 321.69 L339.60 321.80 L340.10 321.68 L340.60 321.31 L341.10 320.72 L341.60 319.92 L342.10 318.91 L342.60 317.72 L343.10 316.35 L343.60 314.83 L344.10 313.15 L344.60 311.34 L345.10 309.41 L345.60 307.37 L346.10 305.24 L346.60 303.02 L347.10 300.74 L347.60 298.40 L348.10 296.01 L348.60 293.59 L349.10 291.14 L349.60 288.68 L350.10 286.22 L350.60 283.76 L351.10 281.32 L351.60 278.90 L352.10 276.53 L352.60 274.20 L353.10 271.94 L353.60 269.75 L354.10 267.65 L354.60 265.65 L355.10 263.77 L355.60 262.02 L356.10 260.42 L356.60 258.97 L357.10 257.69 L357.60 256.59 L358.10 255.70 L358.60 255.01 L359.10 254.55 L359.60 254.32 L359.80 254.30 L360.30 254.49 L360.80 255.03 L361.30 255.89 L361.80 257.02 L362.30 258.38 L362.80 259.95 L363.30 261.67 L363.80 263.51 L364.30 265.43 L364.80 267.38 L365.30 269.35 L365.80 271.27 L366.30 273.11 L366.80 274.85 L367.30 276.42 L367.80 277.81 L368.30 278.99 L368.80 279.99 L369.30 280.82 L369.80 281.50 L370.30 282.04 L370.80 282.45 L371.30 282.76 L371.80 282.98 L372.30 283.12 L372.80 283.19 L373.30 283.23 L373.80 283.23 L374.30 283.21 L374.80 283.20 L375.00 283.20 L375.50 283.16 L376.00 283.06 L376.50 282.89 L377.00 282.66 L377.50 282.39 L378.00 282.07 L378.50 281.71 L379.00 281.32 L379.50 280.90 L380.00 280.47 L380.50 280.02 L381.00 279.56 L381.50 279.10 L382.00 278.65 L382.50 278.20 L383.00 277.78 L383.50 277.37 L384.00 277.00 L384.50 276.66 L385.00 276.36 L385.50 276.09 L386.00 275.85 L386.50 275.64 L387.00 275.46 L387.50 275.32 L388.00 275.20 L388.50 275.11 L389.00 275.05 L389.50 275.01 L390.00 275.00 L390.50 275.02 L391.00 275.08 L391.50 275.17 L392.00 275.29 L392.50 275.43 L393.00 275.58 L393.50 275.75 L394.00 275.93 L394.50 276.11 L395.00 276.28 L395.50 276.45 L396.00 276.60 L396.50 276.74 L397.00 276.85 L397.50 276.94 L398.00 276.99 L398.40 277.00" fill="none" stroke="#000" stroke-width="1.51" stroke-dasharray="4.18 4.18"/>
<path d="M185.00 277.00 L185.50 277.00 L186.00 277.00 L186.50 277.00 L187.00 277.00 L187.50 277.00 L188.00 277.00 L188.50 277.00 L189.00 277.00 L189.50 277.00 L190.00 277.00 L190.50 277.00 L191.00 277.00 L191.50 277.00 L192.00 277.00 L192.50 277.00 L193.00 277.00 L193.50 277.00 L194.00 277.00 L194.50 277.00 L195.00 277.00 L195.50 277.00 L196.00 277.00 L196.50 277.00 L197.00 277.00 L197.50 277.00 L198.00 277.00 L198.50 277.00 L199.00 277.00 L199.50 277.00 L200.00 277.00 L200.50 277.00 L201.00 277.00 L201.50 277.00 L202.00 277.00 L202.50 277.00 L203.00 277.00 L203.50 277.00 L204.00 277.00 L204.50 277.00 L205.00 277.00 L205.50 277.00 L206.00 277.00 L206.50 277.00 L207.00 277.00 L207.50 277.00 L208.00 277.00 L208.50 277.00 L209.00 277.00 L209.50 277.00 L210.00 277.00 L210.50 276.94 L211.00 276.80 L211.50 276.66 L212.00 276.60 L212.50 276.66 L213.00 276.81 L213.50 276.99 L214.00 277.14 L214.50 277.20 L215.00 277.19 L215.50 277.16 L216.00 277.11 L216.50 277.05 L217.00 277.00 L217.50 276.94 L218.00 276.89 L218.50 276.86 L219.00 276.85 L219.50 276.85 L220.00 276.87 L220.50 276.89 L221.00 276.91 L221.50 276.94 L222.00 276.97 L222.50 277.00 L223.00 277.03 L223.50 277.06 L224.00 277.09 L224.50 277.11 L225.00 277.13 L225.50 277.15 L226.00 277.15 L226.50 277.15 L227.00 277.13 L227.50 277.11 L228.00 277.09 L228.50 277.06 L229.00 277.03 L229.50 277.00 L230.00 276.97 L230.50 276.94 L231.00 276.91 L231.50 276.89 L232.00 276.87 L232.50 276.85 L233.00 276.85 L233.50 276.86 L234.00 276.88 L234.50 276.90 L235.00 276.94 L235.50 276.98 L236.00 277.01 L236.50 277.05 L237.00 277.07 L237.50 277.09 L238.00 277.10 L238.50 277.08 L239.00 277.04 L239.50 276.98 L240.00 276.92 L240.50 276.86 L241.00 276.82 L241.50 276.80 L242.00 276.90 L242.50 277.16 L243.00 277.51 L243.50 277.89 L244.00 278.24 L244.50 278.50 L245.00 278.60 L245.50 278.57 L246.00 278.46 L246.50 278.26 L247.00 277.96 L247.50 277.55 L248.00 277.00 L248.50 276.32 L249.00 275.56 L249.50 274.76 L250.00 273.99 L250.50 273.29 L251.00 272.72 L251.50 272.34 L252.00 272.20 L252.50 272.28 L253.00 272.50 L253.50 272.86 L254.00 273.34 L254.50 273.92 L255.00 274.59 L255.50 275.34 L256.00 276.15 L256.50 277.00 L257.00 277.88 L257.50 278.79 L258.00 279.69 L258.50 280.60 L259.00 281.47 L259.50 282.32 L260.00 283.12 L260.50 283.86 L261.00 284.52 L261.50 285.10 L262.00 285.58 L262.50 285.95 L263.00 286.19 L263.50 286.30 L263.60 286.30 L264.10 286.27 L264.60 286.15 L265.10 285.94 L265.60 285.60 L266.10 285.12 L266.60 284.48 L267.10 283.66 L267.60 282.64 L268.10 281.40 L268.60 279.92 L269.10 278.18 L269.60 276.16 L270.10 273.87 L270.60 271.36 L271.10 268.71 L271.60 265.95 L272.10 263.15 L272.60 260.37 L273.10 257.67 L273.60 255.09 L274.10 252.70 L274.60 250.56 L275.10 248.72 L275.60 247.25 L276.10 246.19 L276.60 245.60 L276.90 245.50 L277.40 245.72 L277.90 246.37 L278.40 247.42 L278.90 248.84 L279.40 250.61 L279.90 252.70 L280.40 255.08 L280.90 257.73 L281.40 260.62 L281.90 263.73 L282.40 267.02 L282.90 270.47 L283.40 274.05 L283.90 277.75 L284.40 281.52 L284.90 285.35 L285.40 289.21 L285.90 293.08 L286.40 296.93 L286.90 300.73 L287.40 304.47 L287.90 308.12 L288.40 311.65 L288.90 315.05 L289.40 318.27 L289.90 321.31 L290.40 324.13 L290.90 326.71 L291.40 329.03 L291.90 331.05 L292.40 332.77 L292.90 334.15 L293.40 335.16 L293.90 335.79 L294.40 336.00 L294.90 335.85 L295.40 335.43 L295.90 334.75 L296.40 333.82 L296.90 332.68 L297.40 331.35 L297.90 329.83 L298.40 328.16 L298.90 326.35 L299.40 324.43 L299.90 322.41 L300.40 320.31 L300.90 318.16 L301.40 315.97 L301.90 313.77 L302.40 311.57 L302.90 309.40 L303.40 307.27 L303.90 305.19 L304.40 303.16 L304.90 301.18 L305.40 299.24 L305.90 297.36 L306.40 295.54 L306.90 293.76 L307.40 292.04 L307.90 290.38 L308.40 288.78 L308.90 287.23 L309.40 285.75 L309.90 284.32 L310.40 282.96 L310.90 281.65 L311.40 280.41 L311.90 279.23 L312.40 278.11 L312.90 277.05 L313.40 276.05 L313.90 275.12 L314.40 274.24 L314.90 273.42 L315.40 272.66 L315.90 271.96 L316.40 271.32 L316.90 270.74 L317.40 270.21 L317.90 269.75 L318.40 269.34 L318.90 268.99 L319.40 268.70 L319.90 268.47 L320.40 268.29 L320.90 268.17 L321.40 268.11 L321.70 268.10 L322.20 268.16 L322.70 268.33 L323.20 268.61 L323.70 269.00 L324.20 269.49 L324.70 270.07 L325.20 270.75 L325.70 271.51 L326.20 272.35 L326.70 273.27 L327.20 274.26 L327.70 275.32 L328.20 276.44 L328.70 277.62 L329.20 278.85 L329.70 280.14 L330.20 281.46 L330.70 282.83 L331.20 284.23 L331.70 285.66 L332.20 287.12 L332.70 288.60 L333.20 290.10 L333.70 291.61 L334.20 293.13 L334.70 294.65 L335.20 296.18 L335.70 297.70 L336.20 299.23 L336.70 300.75 L337.20 302.26 L337.70 303.76 L338.20 305.24 L338.70 306.71 L339.20 308.16 L339.70 309.59 L340.20 310.98 L340.70 312.36 L341.20 313.70 L341.70 315.00 L342.20 316.27 L342.70 317.49 L343.20 318.68 L343.70 319.82 L344.20 320.90 L344.70 321.94 L345.20 322.92 L345.70 323.84 L346.20 324.71 L346.70 325.50 L347.20 326.23 L347.70 326.89 L348.20 327.48 L348.70 327.99 L349.20 328.42 L349.70 328.77 L350.20 329.03 L350.70 329.21 L351.20 329.29 L351.40 329.30 L351.90 329.18 L352.40 328.85 L352.90 328.29 L353.40 327.53 L353.90 326.58 L354.40 325.44 L354.90 324.13 L355.40 322.64 L355.90 321.01 L356.40 319.22 L356.90 317.29 L357.40 315.24 L357.90 313.07 L358.40 310.79 L358.90 308.41 L359.40 305.94 L359.90 303.38 L360.40 300.76 L360.90 298.09 L361.40 295.37 L361.90 292.63 L362.40 289.87 L362.90 287.13 L363.40 284.40 L363.90 281.71 L364.40 279.07 L364.90 276.49 L365.40 273.99 L365.90 271.58 L366.40 269.26 L366.90 267.04 L367.40 264.94 L367.90 262.95 L368.40 261.08 L368.90 259.35 L369.40 257.76 L369.90 256.32 L370.40 255.03 L370.90 253.91 L371.40 252.95 L371.90 252.18 L372.40 251.60 L372.90 251.21 L373.40 251.02 L373.60 251.00 L374.10 251.11 L374.60 251.43 L375.10 251.95 L375.60 252.65 L376.10 253.51 L376.60 254.51 L377.10 255.65 L377.60 256.90 L378.10 258.24 L378.60 259.66 L379.10 261.15 L379.60 262.68 L380.10 264.25 L380.60 265.83 L381.10 267.41 L381.60 268.96 L382.10 270.49 L382.60 271.96 L383.10 273.36 L383.60 274.68 L384.10 275.90 L384.60 277.00 L385.10 277.97 L385.60 278.81 L386.10 279.54 L386.60 280.15 L387.10 280.66 L387.60 281.07 L388.10 281.39 L388.60 281.62 L389.10 281.78 L389.60 281.87 L390.10 281.90 L390.60 281.85 L391.10 281.70 L391.60 281.48 L392.10 281.18 L392.60 280.83 L393.10 280.44 L393.60 280.02 L394.10 279.58 L394.60 279.14 L395.10 278.71 L395.60 278.30 L396.10 277.92 L396.60 277.59 L397.10 277.32 L397.60 277.13 L398.10 277.02 L398.40 277.00" fill="none" stroke="#000" stroke-width="1.51" stroke-linejoin="round"/>
<rect x="184.90" y="212.20" width="214.10" height="129.60" fill="none" stroke="#000" stroke-width="1.93"/>
<g stroke="#000" stroke-width="0.63"><line x1="184.90" y1="341.80" x2="184.90" y2="338.67"/><line x1="184.90" y1="212.20" x2="184.90" y2="215.33"/><line x1="211.66" y1="341.80" x2="211.66" y2="338.67"/><line x1="211.66" y1="212.20" x2="211.66" y2="215.33"/><line x1="238.43" y1="341.80" x2="238.43" y2="338.67"/><line x1="238.43" y1="212.20" x2="238.43" y2="215.33"/><line x1="265.19" y1="341.80" x2="265.19" y2="338.67"/><line x1="265.19" y1="212.20" x2="265.19" y2="215.33"/><line x1="291.95" y1="341.80" x2="291.95" y2="338.67"/><line x1="291.95" y1="212.20" x2="291.95" y2="215.33"/><line x1="318.71" y1="341.80" x2="318.71" y2="338.67"/><line x1="318.71" y1="212.20" x2="318.71" y2="215.33"/><line x1="345.48" y1="341.80" x2="345.48" y2="338.67"/><line x1="345.48" y1="212.20" x2="345.48" y2="215.33"/><line x1="372.24" y1="341.80" x2="372.24" y2="338.67"/><line x1="372.24" y1="212.20" x2="372.24" y2="215.33"/><line x1="399.00" y1="341.80" x2="399.00" y2="338.67"/><line x1="399.00" y1="212.20" x2="399.00" y2="215.33"/><line x1="184.90" y1="212.20" x2="188.03" y2="212.20"/><line x1="399.00" y1="212.20" x2="395.87" y2="212.20"/><line x1="184.90" y1="244.60" x2="188.03" y2="244.60"/><line x1="399.00" y1="244.60" x2="395.87" y2="244.60"/><line x1="184.90" y1="277.00" x2="188.03" y2="277.00"/><line x1="399.00" y1="277.00" x2="395.87" y2="277.00"/><line x1="184.90" y1="309.40" x2="188.03" y2="309.40"/><line x1="399.00" y1="309.40" x2="395.87" y2="309.40"/><line x1="184.90" y1="341.80" x2="188.03" y2="341.80"/><line x1="399.00" y1="341.80" x2="395.87" y2="341.80"/></g>
<g font-family='"DejaVu Sans", "Liberation Sans", sans-serif' font-size="9.45" fill="#111"><text x="184.90" y="352.24" text-anchor="middle">0.0</text><text x="211.66" y="352.24" text-anchor="middle">0.5</text><text x="238.43" y="352.24" text-anchor="middle">1.0</text><text x="265.19" y="352.24" text-anchor="middle">1.5</text><text x="291.95" y="352.24" text-anchor="middle">2.0</text><text x="318.71" y="352.24" text-anchor="middle">2.5</text><text x="345.48" y="352.24" text-anchor="middle">3.0</text><text x="372.24" y="352.24" text-anchor="middle">3.5</text><text x="399.00" y="352.24" text-anchor="middle">4.0</text><text x="182.18" y="215.54" text-anchor="end">1.0</text><text x="182.18" y="247.94" text-anchor="end">0.5</text><text x="182.18" y="280.34" text-anchor="end">0.0</text><text x="182.18" y="312.74" text-anchor="end">−0.5</text><text x="182.18" y="345.14" text-anchor="end">−1.0</text></g>
<text x="291.95" y="364.36" text-anchor="middle" font-family='"DejaVu Sans", "Liberation Sans", sans-serif' font-size="9.71" fill="#111">Depth (km)</text>
<text transform="translate(153.15 277.00) rotate(-90)" text-anchor="middle" font-family='"DejaVu Sans", "Liberation Sans", sans-serif' font-size="9.71" fill="#111">Kernel Magnitude</text>
<text x="291.85" y="208.75" text-anchor="middle" font-family='"DejaVu Sans", "Liberation Sans", sans-serif' font-size="11.75" fill="#111">Depth Profile of Kernels</text>
<line x1="224.27" y1="225.78" x2="239.52" y2="225.78" stroke="#000" stroke-width="1.51"/>
<text x="251.22" y="229.54" font-family='"DejaVu Sans", "Liberation Sans", sans-serif' font-size="10.29" fill="#111">Isotropic</text>
<line x1="319.52" y1="225.78" x2="334.77" y2="225.78" stroke="#000" stroke-width="1.51" stroke-dasharray="4.18 4.07"/>
<text x="345.94" y="229.54" font-family='"DejaVu Sans", "Liberation Sans", sans-serif' font-size="10.29" fill="#111">VTI</text>
<text x="277.00" y="393.90" text-anchor="middle" font-family='"Liberation Serif", "DejaVu Serif", serif' font-weight="bold" font-size="9.20" letter-spacing="0.3" stroke-width="0.08" fill="#111">(c)</text>
</svg>
</body></html>
